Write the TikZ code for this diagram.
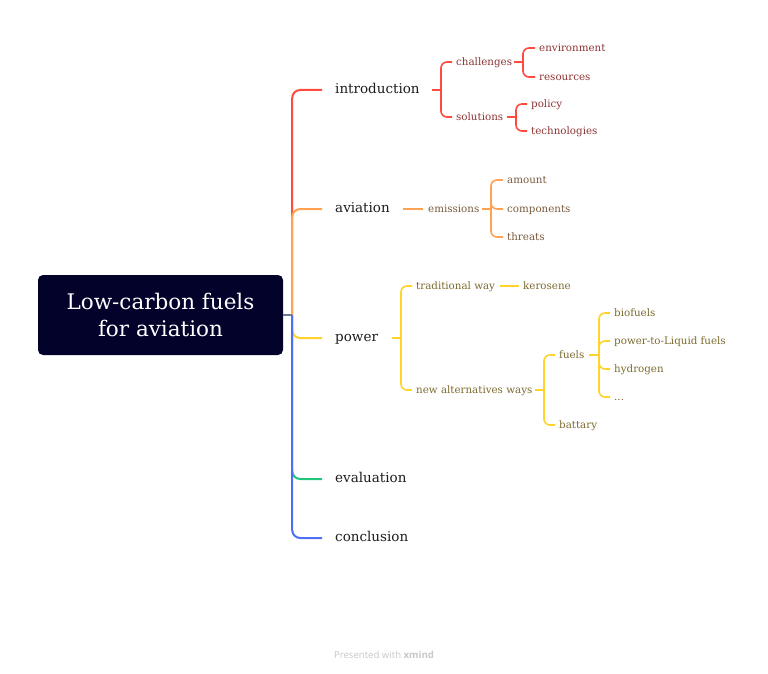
\documentclass[tikz,border=0pt]{standalone}
\usepackage{fontspec}
\setmainfont{DejaVu Serif}
\newfontfamily\footfont{Open Sans}
\usepackage{tikz}
\usetikzlibrary{calc}
\definecolor{rootnavy}{HTML}{03022B}
\definecolor{hubslate}{HTML}{6A7A99}
\definecolor{introred}{HTML}{FF4A3D}
\definecolor{introtext}{HTML}{8C3434}
\definecolor{avorange}{HTML}{FFA352}
\definecolor{avtext}{HTML}{7A5A3C}
\definecolor{powyellow}{HTML}{FFD32A}
\definecolor{powtext}{HTML}{7B6A2E}
\definecolor{evalgreen}{HTML}{1EC77A}
\definecolor{conblue}{HTML}{4F6EF7}
\definecolor{maintext}{HTML}{1C1C1C}

\begin{document}
\begin{tikzpicture}[x=1pt, y=-1pt,
  rootbox/.style={fill=rootnavy, rounded corners=5pt, minimum width=245pt,
                  minimum height=80pt, align=center, text=white,
                  font=\fontsize{21.5}{27}\selectfont},
  mainnode/.style={anchor=west, inner sep=0pt, text=maintext,
                   text height=0.86em, text depth=0.18em,
                   font=\fontsize{13.5}{16}\selectfont},
  subnode/.style={anchor=west, inner sep=0pt, text=#1,
                  text height=0.84em, text depth=0.2em,
                  font=\fontsize{10.3}{12}\selectfont},
  branch/.style={draw=#1, line width=2pt, rounded corners=8pt},
  link/.style={draw=#1, line width=1.6pt, rounded corners=6pt},
]
\useasboundingbox (0,0) rectangle (768,674);

%% Central topic
\node[rootbox] (root) at (160.5,315) {Low-carbon fuels\\for aviation};
\coordinate (hub) at ([xshift=9pt]root.east);

%% Main topics
\node[mainnode] (intro) at (335,90)  {introduction};
\node[mainnode] (avia)  at (335,209) {aviation};
\node[mainnode] (power) at (335,338) {power};
\node[mainnode] (eval)  at (335,479) {evaluation};
\node[mainnode] (concl) at (335,538) {conclusion};

%% Branches from the central topic
\draw[branch=introred]  (hub) |- ([xshift=-13pt]intro.west);
\draw[branch=avorange]  (hub) |- ([xshift=-13pt]avia.west);
\draw[branch=powyellow] (hub) |- ([xshift=-13pt]power.west);
\draw[branch=evalgreen] (hub) |- ([xshift=-13pt]eval.west);
\draw[branch=conblue]   (hub) |- ([xshift=-13pt]concl.west);
\draw[hubslate, line width=2pt] (root.east) -- (hub);

%% introduction -- challenges and solutions
\node[subnode=introtext] (chal) at (456,62)  {challenges};
\node[subnode=introtext] (sol)  at (456,117) {solutions};
\node[subnode=introtext] (env)  at (539,48)  {environment};
\node[subnode=introtext] (res)  at (539,77)  {resources};
\node[subnode=introtext] (pol)  at (531,104) {policy};
\node[subnode=introtext] (tech) at (531,131) {technologies};

\draw[link=introred] ([xshift=-24pt]chal.west |- intro.east) -- ([xshift=-15pt]chal.west |- intro.east);
\foreach \c in {chal, sol}
  \draw[link=introred] ([xshift=-15pt]\c.west |- intro.east) |- ([xshift=-4pt]\c.west);
\draw[link=introred] ([xshift=-25pt]env.west |- chal.east) -- ([xshift=-16pt]env.west |- chal.east);
\foreach \c in {env, res}
  \draw[link=introred] ([xshift=-16pt]\c.west |- chal.east) |- ([xshift=-4pt]\c.west);
\draw[link=introred] ([xshift=-24pt]pol.west |- sol.east) -- ([xshift=-15pt]pol.west |- sol.east);
\foreach \c in {pol, tech}
  \draw[link=introred] ([xshift=-15pt]\c.west |- sol.east) |- ([xshift=-4pt]\c.west);

%% aviation -- emissions
\node[subnode=avtext] (emis) at (428,209) {emissions};
\node[subnode=avtext] (amnt) at (507,180) {amount};
\node[subnode=avtext] (comp) at (507,209) {components};
\node[subnode=avtext] (thrt) at (507,237) {threats};

\draw[link=avorange] ([xshift=-25pt]emis.west) -- ([xshift=-5pt]emis.west);
\draw[link=avorange] ([xshift=-25pt]comp.west |- emis.east) -- ([xshift=-16pt]comp.west |- emis.east);
\foreach \c in {amnt, comp, thrt}
  \draw[link=avorange] ([xshift=-16pt]\c.west |- emis.east) |- ([xshift=-4pt]\c.west);

%% power -- traditional and new ways
\node[subnode=powtext] (trad) at (416,286) {traditional way};
\node[subnode=powtext] (kero) at (523,286) {kerosene};
\node[subnode=powtext] (neww) at (416,390) {new alternatives ways};
\node[subnode=powtext] (fuel) at (559,355) {fuels};
\node[subnode=powtext] (batt) at (559,425) {battary};
\node[subnode=powtext] (bio)  at (614,313) {biofuels};
\node[subnode=powtext] (ptl)  at (614,341) {power-to-Liquid fuels};
\node[subnode=powtext] (hydr) at (614,369) {hydrogen};
\node[subnode=powtext] (etc)  at (614,397) {...};

\draw[link=powyellow] ([xshift=-24pt]trad.west |- power.east) -- ([xshift=-15pt]trad.west |- power.east);
\foreach \c in {trad, neww}
  \draw[link=powyellow] ([xshift=-15pt]\c.west |- power.east) |- ([xshift=-4pt]\c.west);
\draw[link=powyellow] ([xshift=-23pt]kero.west) -- ([xshift=-4pt]kero.west);
\draw[link=powyellow] ([xshift=-24pt]fuel.west |- neww.east) -- ([xshift=-15pt]fuel.west |- neww.east);
\foreach \c in {fuel, batt}
  \draw[link=powyellow] ([xshift=-15pt]\c.west |- neww.east) |- ([xshift=-4pt]\c.west);
\draw[link=powyellow] ([xshift=-25pt]bio.west |- fuel.east) -- ([xshift=-15pt]bio.west |- fuel.east);
\foreach \c in {bio, ptl, hydr, etc}
  \draw[link=powyellow] ([xshift=-15pt]\c.west |- fuel.east) |- ([xshift=-4pt]\c.west);

%% Footer
\node[font=\footfont\fontsize{9.6}{11}\selectfont, text=black!22] (foot) at (384,655)
  {Presented with \textbf{xmind}};
\end{tikzpicture}
\end{document}
